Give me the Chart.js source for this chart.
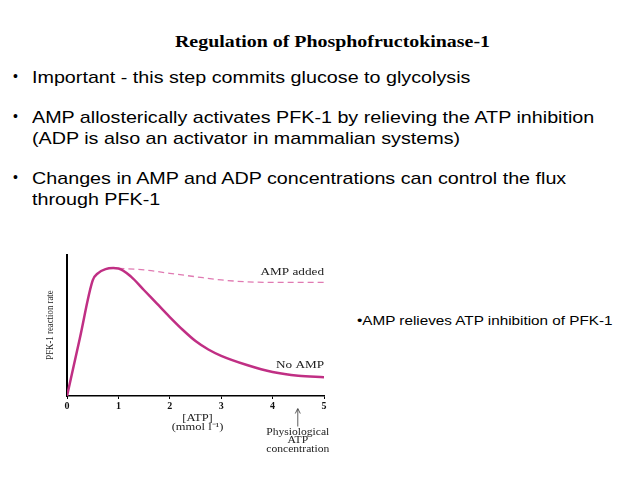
<!DOCTYPE html>
<html><head><meta charset="utf-8">
<script src="https://cdn.jsdelivr.net/npm/chart.js@4.4.0/dist/chart.umd.min.js"></script>
<style>
html,body{margin:0;padding:0;background:#fff;width:638px;height:479px;overflow:hidden;position:relative;}
.t{position:absolute;white-space:nowrap;font-family:"Liberation Sans",Arial,sans-serif;color:#000;transform-origin:0 0;}
.title{font-family:"Liberation Serif","Times New Roman",serif;font-weight:bold;font-size:17px;left:175px;top:32px;transform:scaleX(1.17);}
.b{font-size:17px;line-height:21px;transform:scaleX(1.16);}
.dot{position:absolute;font-family:"Liberation Sans",Arial,sans-serif;font-size:14px;}
#wrap{position:absolute;left:0;top:240px;width:360px;height:230px;}
</style></head>
<body>
<div class="t title">Regulation of Phosphofructokinase-1</div>
<div class="dot" style="left:13px;top:68px">•</div>
<div class="t b" style="left:32px;top:67px">Important - this step commits glucose to glycolysis</div>
<div class="dot" style="left:13px;top:108px">•</div>
<div class="t b" style="left:32px;top:107px">AMP allosterically activates PFK-1 by relieving the ATP inhibition</div>
<div class="t b" style="left:32px;top:128px">(ADP is also an activator in mammalian systems)</div>
<div class="dot" style="left:13px;top:169px">•</div>
<div class="t b" style="left:32px;top:168px">Changes in AMP and ADP concentrations can control the flux</div>
<div class="t b" style="left:32px;top:189px">through PFK-1</div>
<div class="t" style="left:357px;top:313px;font-size:13.5px;transform:scaleX(1.13)">•AMP relieves ATP inhibition of PFK-1</div>
<div id="wrap"><canvas id="c" width="360" height="230"></canvas></div>
<script>
const atpNoAmp = [0, 0.25, 0.5, 0.6, 0.75, 0.9, 1.0, 1.25, 1.5, 1.75, 2.0, 2.25, 2.5, 2.75, 3.0, 3.5, 4.0, 4.5, 5.0];
const rateNoAmp = [0, 4.1, 8.2, 8.7, 9.0, 9.07, 9.05, 8.45, 7.5, 6.55, 5.6, 4.7, 3.9, 3.3, 2.85, 2.2, 1.7, 1.43, 1.33];
const atpAmp = [1.0, 1.5, 2.0, 2.5, 3.0, 3.5, 4.0, 4.5, 5.0];
const rateAmp = [9.05, 8.94, 8.7, 8.46, 8.23, 8.1, 8.06, 8.06, 8.06];
const xTicks = [0, 1, 2, 3, 4, 5];

const serif = '"Liberation Serif","Times New Roman",serif';
function sText(ctx, txt, x, y, sx) {
  ctx.save(); ctx.translate(x, y); ctx.scale(sx, 1); ctx.fillText(txt, 0, 0); ctx.restore();
}
const labels = {
  id: 'labels',
  afterDraw(chart) {
    const ctx = chart.ctx;
    const xs = chart.scales.x;
    ctx.save();
    ctx.fillStyle = '#222';
    ctx.textBaseline = 'middle';
    ctx.textAlign = 'right';
    ctx.font = '11px ' + serif;
    const rx = xs.getPixelForValue(5);
    sText(ctx, 'AMP added', rx, 32, 1.2);
    sText(ctx, 'No AMP', rx, 125, 1.2);
    ctx.textAlign = 'center';
    ctx.font = '10px ' + serif;
    const cx = 197.5;
    sText(ctx, '[ATP]', cx, 178.3, 1.25);
    sText(ctx, '(mmol l\u207B\u00B9)', cx, 187.7, 1.25);
    const ax = xs.getPixelForValue(4.49);
    ctx.font = '9.5px ' + serif;
    sText(ctx, 'Physiological', ax, 192.3, 1.22);
    sText(ctx, 'ATP', ax, 200.9, 1.22);
    sText(ctx, 'concentration', ax, 209.7, 1.22);
    ctx.strokeStyle = '#333';
    ctx.lineWidth = 0.8;
    ctx.beginPath();
    ctx.moveTo(ax, 169); ctx.lineTo(ax, 186.5);
    ctx.moveTo(ax - 2.5, 173.5); ctx.lineTo(ax, 168.5); ctx.lineTo(ax + 2.5, 173.5);
    ctx.stroke();
    ctx.translate(50, 85);
    ctx.rotate(-Math.PI / 2);
    ctx.font = '10px ' + serif;
    ctx.scale(0.88, 1);
    ctx.fillText('PFK-1 reaction rate', 0, 0);
    ctx.restore();
  }
};

new Chart(document.getElementById('c'), {
  type: 'line',
  data: {
    datasets: [
      { label: 'No AMP', data: atpNoAmp.map((x, i) => ({x, y: rateNoAmp[i]})),
        borderColor: '#c02f84', borderWidth: 2.5, pointRadius: 0, cubicInterpolationMode: 'monotone', fill: false },
      { label: 'AMP added', data: atpAmp.map((x, i) => ({x, y: rateAmp[i]})),
        borderColor: '#e07ab2', borderWidth: 1.3, borderDash: [6, 4], pointRadius: 0, cubicInterpolationMode: 'monotone', fill: false }
    ]
  },
  options: {
    responsive: false, animation: false, devicePixelRatio: 1,
    layout: { padding: { left: 67, right: 36, top: 15, bottom: 0 } },
    plugins: { legend: { display: false }, tooltip: { enabled: false } },
    scales: {
      x: { type: 'linear', min: 0, max: 5,
        afterBuildTicks: s => { s.ticks = xTicks.map(v => ({value: v})); },
        afterFit: s => { s.height = 74; },
        grid: { display: true, drawOnChartArea: false, tickLength: 3, color: '#000', tickWidth: 1 },
        border: { display: true, color: '#000', width: 1.5 },
        ticks: { color: '#111', font: { family: serif, size: 10, weight: 'bold' }, padding: 1, maxRotation: 0 } },
      y: { min: 0, max: 10, afterFit: s => { s.width = 0; },
        grid: { display: false }, ticks: { display: false },
        border: { display: true, color: '#000', width: 2 } }
    }
  },
  plugins: [labels]
});
</script>
</body></html>
